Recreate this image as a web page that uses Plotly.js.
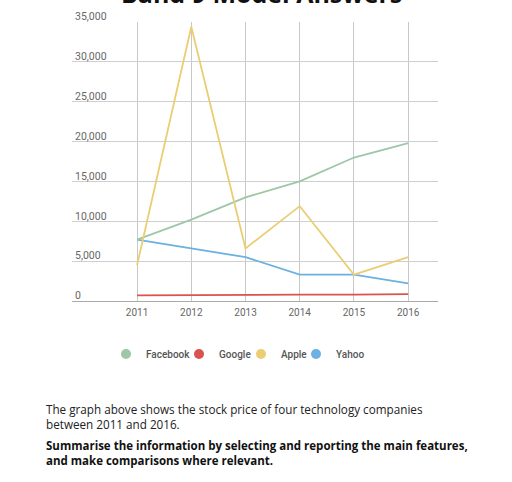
<!DOCTYPE html>
<html><head><meta charset="utf-8">
<script src="https://cdn.plot.ly/plotly-3.0.1.min.js"></script>
<style>html,body{margin:0;padding:0;background:#fff;}#chart{width:512px;height:482px;}</style>
</head><body><div id="chart"></div>
<script>
var years = [2011, 2012, 2013, 2014, 2015, 2016];
var seriesNames = ["Facebook", "Google", "Apple", "Yahoo"];
var facebook = [7700, 10200, 13000, 15000, 18000, 19800];
var google = [700, 750, 750, 800, 800, 850];
var apple = [4500, 34400, 6600, 11900, 3300, 5500];
var yahoo = [7700, 6600, 5500, 3300, 3300, 2200];
var yTicks = [0, 5000, 10000, 15000, 20000, 25000, 30000, 35000];
var titleText = "Band 9 Model Answers";
var para1 = ["The graph above shows the stock price of four technology companies", "between 2011 and 2016."];
var para2 = ["Summarise the information by selecting and reporting the main features,", "and make comparisons where relevant."];

var colors = ["#9dc7a6", "#d9534f", "#ebcd72", "#6cb1e1"];
var values = [facebook, google, apple, yahoo];
var legendX = [106, 179, 241, 296];
var L = 72, R = 438, T = 22, B = 301;
function px(x){ return (x - L) / (R - L); }
function py(y){ return (B - y) / (B - T); }

var traces = [];
var drawOrder = [3, 0, 2, 1];
drawOrder.forEach(function(i){
  traces.push({x: years, y: values[i], type: "scatter", mode: "lines", name: seriesNames[i],
    line: {color: colors[i], width: 1.8}, showlegend: false, hoverinfo: "x+y"});
});
seriesNames.forEach(function(n, i){
  traces.push({x: [null], y: [null], type: "scatter", mode: "markers", name: n,
    marker: {color: colors[i], size: 10, symbol: "circle"}, showlegend: true,
    legend: i === 0 ? "legend" : "legend" + (i + 1)});
});

var legends = {};
seriesNames.forEach(function(n, i){
  legends[i === 0 ? "legend" : "legend" + (i + 1)] = {
    x: px(legendX[i]), xanchor: "left", y: py(354), yanchor: "middle",
    orientation: "h", bgcolor: "rgba(0,0,0,0)", borderwidth: 0,
    font: {family: "Roboto", size: 10, color: "#555", weight: 500},
    itemsizing: "trace"
  };
});

var annotations = [{
  text: "<b>" + titleText + "</b>", xref: "paper", yref: "paper", x: px(261), y: py(12),
  xanchor: "center", yanchor: "bottom", showarrow: false,
  font: {family: "Open Sans", size: 25, color: "#111"}
}];
para1.forEach(function(t, k){
  annotations.push({text: t, xref: "paper", yref: "paper", x: px(44), y: py(409 + 15 * k),
    xanchor: "left", yanchor: "middle", showarrow: false,
    font: {family: "Open Sans", size: 11.7, color: "#222"}});
});
para2.forEach(function(t, k){
  annotations.push({text: "<b>" + t + "</b>", xref: "paper", yref: "paper", x: px(44), y: py(445 + 15 * k),
    xanchor: "left", yanchor: "middle", showarrow: false,
    font: {family: "Open Sans", size: 11.5, color: "#111"}});
});

var layout = Object.assign({
  width: 512, height: 482,
  margin: {l: L, r: 512 - R, t: T, b: 482 - B, pad: 0},
  paper_bgcolor: "#fff", plot_bgcolor: "#fff",
  font: {family: "Roboto", color: "#666"},
  xaxis: {range: [2009.8, 2016.55], tickvals: years, ticktext: years.map(String),
    showgrid: true, gridcolor: "#c8c8c8", gridwidth: 1, zeroline: false, showline: false,
    ticks: "", ticklabelstandoff: 4, tickfont: {family: "Roboto", size: 10, color: "#666"}, fixedrange: true},
  yaxis: {range: [0, 35000], tickvals: yTicks, tickformat: ",", ticklabelposition: "inside top",
    ticklabeloverflow: "allow", ticklabelshift: 2,
    showgrid: true, gridcolor: "#cfcfcf", gridwidth: 1, zeroline: true, zerolinecolor: "#aaa", zerolinewidth: 1,
    showline: false, ticks: "", tickfont: {family: "Roboto", size: 10.5, color: "#666"}, fixedrange: true},
  showlegend: true,
  annotations: annotations
}, legends);

Plotly.newPlot("chart", traces, layout, {displayModeBar: false, staticPlot: true});
</script></body></html>
